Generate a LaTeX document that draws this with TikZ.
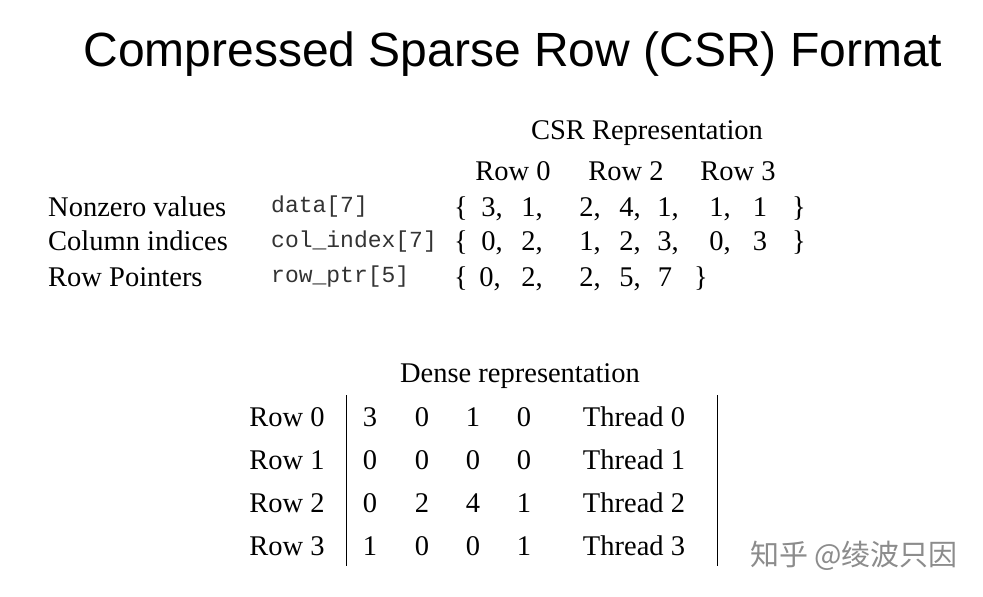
\documentclass[tikz,border=0pt]{standalone}
\usepackage{fontspec}
\setmainfont{Liberation Serif}
\newfontfamily\titlefont{Liberation Sans}
\newfontfamily\monofont{Liberation Mono}
\newfontfamily\cjk{Noto Sans CJK SC}
\begin{document}
\begin{tikzpicture}[x=1pt,y=-1pt,
  txt/.style={font=\fontsize{28.5}{30}\selectfont, inner sep=0pt, text height=19pt, text depth=6pt, yshift=-3pt},
  lbl/.style={txt, anchor=west},
  mono/.style={font=\monofont\fontsize{23}{25}\selectfont, inner sep=0pt, anchor=west, text=black!80, text height=16pt, text depth=5pt, yshift=-2pt},
  rule/.style={line width=1pt}]
\useasboundingbox[fill=white] (0,0) rectangle (983,597);
\node[font=\titlefont\fontsize{48}{50}\selectfont, inner sep=0pt] (title) at (513,54) {Compressed Sparse Row (CSR) Format};
\node[txt] (csr) at (647,130) {CSR Representation};
\node[txt] (r0) at (513,171) {Row 0};
\node[txt] (r2) at (626,171) {Row 2};
\node[txt] (r3) at (738,171) {Row 3};
\node[lbl] (l1) at (48,207) {Nonzero values};
\node[lbl] (l2) at (48,241) {Column indices};
\node[lbl] (l3) at (48,277) {Row Pointers};
\node[mono] (m1) at (271,205) {data[7]};
\node[mono] (m2) at (271,240) {col\_index[7]};
\node[mono] (m3) at (271,275) {row\_ptr[5]};
\foreach \y/\nm in {207/d, 241/c}{
  \node[txt] (\nm b) at (461,\y) {\{};
  \node[txt] (\nm e) at (799,\y) {\}};
}
\foreach \x/\v [count=\i] in {492/{3,},532/{1,},590/{2,},630/{4,},668/{1,},720/{1,},760/{1}}
  \node[txt] (dv\i) at (\x,207) {\v};
\foreach \x/\v [count=\i] in {492/{0,},532/{2,},590/{1,},630/{2,},668/{3,},720/{0,},760/{3}}
  \node[txt] (cv\i) at (\x,241) {\v};
\node[txt] (pb) at (461,277) {\{};
\foreach \x/\v [count=\i] in {490/{0,},532/{2,},590/{2,},630/{5,},665/{7}}
  \node[txt] (pv\i) at (\x,277) {\v};
\node[txt] (pe) at (701,277) {\}};
\node[txt] (dense) at (520,373) {Dense representation};
\foreach \y/\r/\a/\b/\c/\d [count=\i] in {417/0/3/0/1/0, 460/1/0/0/0/0, 503/2/0/2/4/1, 546/3/1/0/0/1}{
  \node[txt] (row\i) at (287,\y) {Row \r};
  \node[txt] (e\i a) at (370,\y) {\a};
  \node[txt] (e\i b) at (422,\y) {\b};
  \node[txt] (e\i c) at (473,\y) {\c};
  \node[txt] (e\i d) at (524,\y) {\d};
  \node[txt] (t\i) at (634,\y) {Thread \r};
}
\coordinate (la) at (346,395); \coordinate (lb) at (346,566);
\coordinate (ra) at (717,395); \coordinate (rb) at (717,566);
\draw[rule] (la) -- (lb);
\draw[rule] (ra) -- (rb);
\node[font=\cjk\fontsize{29}{31}\selectfont, text=black!45, inner sep=0pt] (wm) at (854,556) {知乎 @绫波只因};
\end{tikzpicture}
\end{document}
